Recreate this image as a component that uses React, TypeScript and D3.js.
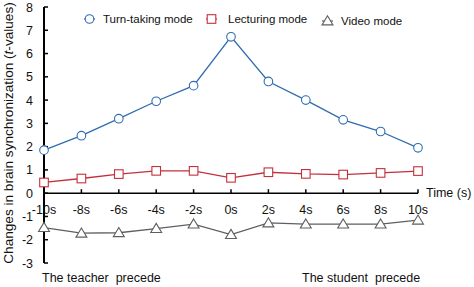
import React from "react";
import * as d3 from "d3";

const times = [-10, -8, -6, -4, -2, 0, 2, 4, 6, 8, 10];
const timeLabels = ["-10s", "-8s", "-6s", "-4s", "-2s", "0s", "2s", "4s", "6s", "8s", "10s"];
const turnTaking = [1.85, 2.47, 3.2, 3.95, 4.62, 6.72, 4.8, 4.0, 3.15, 2.65, 1.95];
const lecturing = [0.46, 0.63, 0.82, 0.96, 0.96, 0.66, 0.9, 0.83, 0.8, 0.87, 0.95];
const video = [-1.48, -1.72, -1.7, -1.52, -1.33, -1.78, -1.28, -1.33, -1.33, -1.33, -1.16];
const yTicks = [-3, -2, -1, 0, 1, 2, 3, 4, 5, 6, 7, 8];
const seriesNames = ["Turn-taking mode", "Lecturing mode", "Video mode"];

const W = 474, H = 287;
const x = d3.scaleLinear().domain([-10, 10]).range([44, 418]);
const y = d3.scaleLinear().domain([-3, 8]).range([263, 7]);
const font = "Liberation Sans, Arial, sans-serif";

function Marker({ kind, cx, cy, color }: { kind: string; cx: number; cy: number; color: string }) {
  if (kind === "circle") return <circle cx={cx} cy={cy} r={4.3} fill="#fff" stroke={color} strokeWidth={1.1} />;
  if (kind === "square") return <rect x={cx - 4.3} y={cy - 4.3} width={8.6} height={8.6} fill="#fff" stroke={color} strokeWidth={1.1} />;
  const s = 5.2;
  return <path d={`M${cx},${cy - s}L${cx + s * 1.05},${cy + s * 0.75}L${cx - s * 1.05},${cy + s * 0.75}Z`} fill="#fff" stroke={color} strokeWidth={1.1} />;
}

export default function App() {
  const line = d3.line<number>().x((_, i) => x(times[i])).y((d) => y(d));
  const series = [
    { name: seriesNames[0], data: turnTaking, color: "#2f6db0", kind: "circle" },
    { name: seriesNames[1], data: lecturing, color: "#c3303c", kind: "square" },
    { name: seriesNames[2], data: video, color: "#5f5f5f", kind: "triangle" },
  ];
  const legendX = [88, 210, 326];
  const legendTX = [103, 228, 341];
  return (
    <svg width={W} height={H} style={{ position: "absolute", left: 0, top: 0, background: "#fff" }} fontFamily={font}>
      {/* y axis */}
      <line x1={x(-10)} x2={x(-10)} y1={y(8)} y2={y(-3)} stroke="#000" strokeWidth={2} />
      {yTicks.map((t) => (
        <g key={t}>
          <line x1={x(-10)} x2={x(-10) + 4} y1={y(t)} y2={y(t)} stroke="#000" strokeWidth={1.5} />
          <text x={33} y={y(t) + 4.5} textAnchor="end" fontSize={12.5} fill="#111">{t}</text>
        </g>
      ))}
      {/* x axis at 0 */}
      <line x1={x(-10)} x2={x(10)} y1={y(0)} y2={y(0)} stroke="#000" strokeWidth={1.6} />
      {times.map((t, i) => (
        <g key={t}>
          <line x1={x(t)} x2={x(t)} y1={y(0)} y2={y(0) - 4} stroke="#000" strokeWidth={1.5} />
          <text x={x(t)} y={y(0) + 21} textAnchor="middle" fontSize={12.5} fill="#111">{timeLabels[i]}</text>
        </g>
      ))}
      <text x={426} y={y(0) + 4} fontSize={12.5} fill="#111">Time (s)</text>
      {/* y label */}
      <text transform={`translate(13,${(y(8) + y(-3)) / 2 - 2}) rotate(-90)`} textAnchor="middle" fontSize={13.6} fill="#111">
        Changes in brain synchronization (<tspan fontStyle="italic">t</tspan>-values)
      </text>
      {/* series */}
      {series.map((s) => (
        <g key={s.name}>
          <path d={line(s.data) || ""} fill="none" stroke={s.color} strokeWidth={1.3} />
          {s.data.map((v, i) => (
            <Marker key={i} kind={s.kind} cx={x(times[i])} cy={y(v)} color={s.color} />
          ))}
        </g>
      ))}
      {/* legend */}
      {series.map((s, i) => (
        <g key={s.name}>
          <line x1={legendX[i] - 4} x2={legendX[i] + 7} y1={i === 2 ? 21 : 19} y2={i === 2 ? 21 : 19} stroke={s.color} strokeWidth={1.2} />
          <Marker kind={s.kind} cx={legendX[i] + 1.5} cy={i === 2 ? 21 : 19} color={s.color} />
          <text x={legendTX[i]} y={i === 2 ? 25 : 23} fontSize={11.5} fill="#111">{s.name}</text>
        </g>
      ))}
      <text x={42} y={282} fontSize={12.5} fill="#111" xmlSpace="preserve">The teacher  precede</text>
      <text x={302} y={282} fontSize={12.5} fill="#111" xmlSpace="preserve">The student  precede</text>
    </svg>
  );
}
